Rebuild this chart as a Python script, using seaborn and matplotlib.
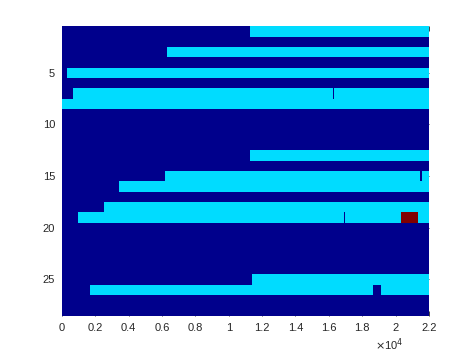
import numpy as np
import matplotlib
matplotlib.use("Agg")
import matplotlib.pyplot as plt
from matplotlib.colors import ListedColormap
import seaborn as sns

# ---- data: segments of a 28 x 22000 state matrix (default state 0) ----
n_rows = 28
x_max = 22000
bin_w = 10

seg_rows   = [1,     3,    5,   7,     7,     8, 13,    15,   15,    16,   18,   19,   19,    19,    25,    26,   26]
seg_starts = [11300, 6290, 320, 640,   16230, 0, 11300, 6190, 21480, 3430, 2490, 940,  16900, 20320, 11400, 1680, 18660]
seg_ends   = [22000, 22000, 22000, 22000, 16330, 22000, 22000, 22000, 21560, 22000, 22000, 22000, 16990, 21360, 22000, 22000, 19110]
seg_values = [1,     1,    1,   1,     0,     1, 1,     1,    0,     1,    1,    1,    0,     2,     1,     1,    0]

x_tick_vals = [0, 2000, 4000, 6000, 8000, 10000, 12000, 14000, 16000, 18000, 20000, 22000]
x_tick_labels = ["0", "0.2", "0.4", "0.6", "0.8", "1", "1.2", "1.4", "1.6", "1.8", "2", "2.2"]
y_tick_rows = [5, 10, 15, 20, 25]

# ---- build matrix ----
n_cols = x_max // bin_w
mat = np.zeros((n_rows, n_cols))
for r, s, e, v in zip(seg_rows, seg_starts, seg_ends, seg_values):
    mat[r - 1, s // bin_w:e // bin_w] = v

sns.set_style("white")
plt.rcParams["font.family"] = ["Liberation Sans", "DejaVu Sans"]

fig = plt.figure(figsize=(4.74, 3.55), dpi=100)
ax = fig.add_axes([0.1308, 0.111, 0.774, 0.815])

cmap = ListedColormap(["#00008C", "#00DCFF", "#800000"])
sns.heatmap(mat, ax=ax, cmap=cmap, vmin=0, vmax=2, cbar=False,
            xticklabels=False, yticklabels=False, rasterized=True)

ax.set_xlim(0, n_cols)
ax.set_ylim(n_rows, 0)
ax.set_xticks([v / bin_w for v in x_tick_vals])
ax.set_xticklabels(x_tick_labels)
ax.set_yticks([r - 0.5 for r in y_tick_rows])
ax.set_yticklabels([str(r) for r in y_tick_rows], rotation=0)

tc = "#262626"
ax.tick_params(axis="both", direction="in", length=3.5, width=0.6,
               top=True, right=True, bottom=True, left=True,
               labelsize=8, colors=tc, labelcolor=tc, pad=5)
for lab in ax.get_xticklabels() + ax.get_yticklabels():
    lab.set_color(tc)

ax.text(0.853, -0.102, r"$\times$10$^4$", transform=ax.transAxes,
        ha="left", va="center", fontsize=8, color=tc)

fig.savefig("out.png", dpi=100, facecolor="white")
